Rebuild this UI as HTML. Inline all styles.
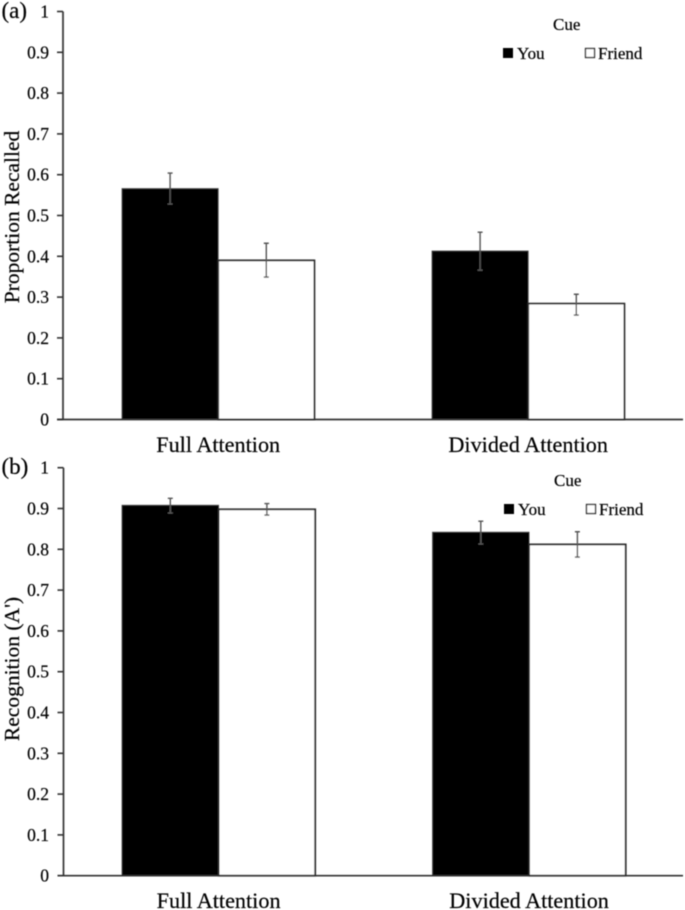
<!DOCTYPE html>
<html lang="en">
<head>
<meta charset="utf-8">
<title>Proportion Recalled and Recognition by Attention and Cue</title>
<style>
html,body{margin:0;padding:0;background:#fff;}
body{width:685px;height:910px;overflow:hidden;}
svg{display:block;}
text{font-family:"Liberation Serif",serif;fill:#000;stroke:#000;stroke-width:0.2px;}
</style>
</head>
<body>
<svg id="chart" xmlns="http://www.w3.org/2000/svg" width="685" height="910" viewBox="0 0 685 910">
<defs><filter id="soft" x="-2%" y="-2%" width="104%" height="104%"><feGaussianBlur stdDeviation="0.4"/></filter></defs>
<g id="root" filter="url(#soft)"></g>
</svg>
<script>
var categories = ['Full Attention', 'Divided Attention'];
var seriesNames = ['You', 'Friend'];
var tickValues = [0, 0.1, 0.2, 0.3, 0.4, 0.5, 0.6, 0.7, 0.8, 0.9, 1];
var tickLabels = ['0', '0.1', '0.2', '0.3', '0.4', '0.5', '0.6', '0.7', '0.8', '0.9', '1'];

var recallYou = [0.566, 0.413];
var recallFriend = [0.39, 0.284];
var recallYouLow = [0.528, 0.366];
var recallYouHigh = [0.604, 0.459];
var recallFriendLow = [0.349, 0.256];
var recallFriendHigh = [0.432, 0.307];

var recogYou = [0.908, 0.842];
var recogFriend = [0.898, 0.812];
var recogYouLow = [0.889, 0.813];
var recogYouHigh = [0.925, 0.869];
var recogFriendLow = [0.884, 0.781];
var recogFriendHigh = [0.912, 0.843];

var root = document.getElementById('root');
var NS = 'http://www.w3.org/2000/svg';

function make(tag, attrs, parent, txt) {
  var el = document.createElementNS(NS, tag);
  for (var k in attrs) el.setAttribute(k, attrs[k]);
  if (txt !== undefined) el.textContent = txt;
  parent.appendChild(el);
  return el;
}

function drawPanel(p) {
  var g = make('g', {}, root);
  
  

  var y = function (v) { return p.bottom - v * 408; };
  var x = function (c, s) { return p.groupX[c] + s * p.barW; };

  // bars
  [p.you, p.friend].forEach(function (vals, s) {
    vals.forEach(function (v, c) {
      var bar = make('rect', {
        x: x(c, s), y: y(v), width: p.barW, height: y(0) - y(v),
        fill: s === 0 ? '#000' : '#fff',
        stroke: s === 0 ? '#444' : '#2a2a2a',
        'stroke-width': s === 0 ? 0.8 : 1.8
      }, g);
      
      
    });
  });

  // error bars
  [[p.youLow, p.youHigh], [p.friendLow, p.friendHigh]].forEach(function (pair, s) {
    pair[0].forEach(function (low, c) {
      var cx = x(c, s) + p.barW / 2;
      var high = pair[1][c];
      var e = make('path', {
        d: 'M' + (cx - 2.5) + ' ' + y(high) + 'H' + (cx + 2.5) +
           'M' + cx + ' ' + y(high) + 'V' + y(low) +
           'M' + (cx - 2.5) + ' ' + y(low) + 'H' + (cx + 2.5),
        fill: 'none', stroke: '#555', 'stroke-width': 1.4
      }, g);
      
      
    });
  });

  // axes
  var yAxis = make('line', {x1: p.axisX, x2: p.axisX, y1: y(1), y2: y(0), stroke: '#333', 'stroke-width': 1.7}, g);
  
  
  var xAxis = make('line', {x1: p.axisX - 6, x2: 683, y1: y(0), y2: y(0), stroke: '#333', 'stroke-width': 1.7}, g);
  
  

  tickValues.forEach(function (v, i) {
    var tick = make('line', {x1: p.axisX - 6, x2: p.axisX, y1: y(v), y2: y(v), stroke: '#333', 'stroke-width': 1.6}, g);
    
    
    var lab = make('text', {x: 49, y: y(v) + 6, 'text-anchor': 'end', 'font-size': 17.5}, g, tickLabels[i]);
    
    
  });

  categories.forEach(function (name, c) {
    var lab = make('text', {x: x(c, 1), y: p.bottom + 32.5, 'text-anchor': 'middle', 'font-size': 22.2}, g, name);
    
    
  });

  var yTitle = make('text', {
    x: 0, y: 0, 'text-anchor': 'middle', 'font-size': 21.5,
    transform: 'translate(19 ' + p.titleY + ') rotate(-90)'
  }, g, p.title);
  
  

  var tag = make('text', {x: 1.5, y: p.tagY, 'font-size': 23}, g, p.tag);
  
  

  // legend
  var cue = make('text', {x: p.legX + 50, y: p.legY - 29, 'font-size': 17}, g, 'Cue');
  
  
  var sw1 = make('rect', {x: p.legX, y: p.legY - 11, width: 10, height: 10, fill: '#000'}, g);
  
  
  var t1 = make('text', {x: p.legX + 14, y: p.legY, 'font-size': 17}, g, seriesNames[0]);
  
  
  var sw2 = make('rect', {x: p.legX + 82.5, y: p.legY - 10.5, width: 9, height: 9, fill: '#fff', stroke: '#222', 'stroke-width': 1.3}, g);
  
  
  var t2 = make('text', {x: p.legX + 95, y: p.legY, 'font-size': 17}, g, seriesNames[1]);
  
  
}

drawPanel({
  key: 'recall', tag: '(a)', tagY: 18, title: 'Proportion Recalled', titleY: 217,
  bottom: 419.5, axisX: 63, groupX: [122, 432], barW: 96.2,
  you: recallYou, friend: recallFriend,
  youLow: recallYouLow, youHigh: recallYouHigh,
  friendLow: recallFriendLow, friendHigh: recallFriendHigh,
  legX: 503, legY: 59
});

drawPanel({
  key: 'recognition', tag: '(b)', tagY: 474, title: "Recognition (A')", titleY: 669,
  bottom: 875.7, axisX: 63.5, groupX: [122, 432.5], barW: 96.6,
  you: recogYou, friend: recogFriend,
  youLow: recogYouLow, youHigh: recogYouHigh,
  friendLow: recogFriendLow, friendHigh: recogFriendHigh,
  legX: 504, legY: 515
});
</script>
</body>
</html>
